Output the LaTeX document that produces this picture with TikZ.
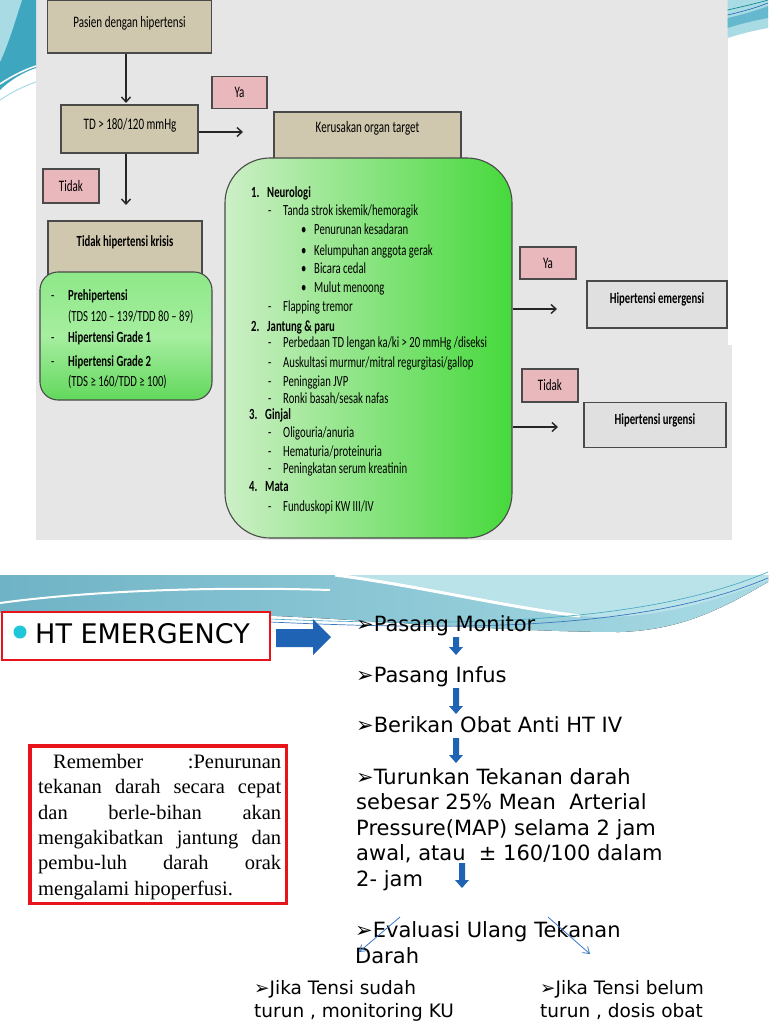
\documentclass[tikz,border=0pt]{standalone}
\usepackage{fontspec}
\setmainfont{DejaVu Sans}
\newfontfamily\fc[FakeStretch=0.69]{Carlito}
\newfontfamily\djv{DejaVu Sans}
\newfontfamily\tnr{Liberation Serif}
\usetikzlibrary{arrows.meta,calc}
\definecolor{tanc}{HTML}{CFC8AE}
\definecolor{pinkb}{HTML}{E9B8BC}
\definecolor{bgg}{HTML}{E6E6E6}
\definecolor{boxg}{HTML}{E0E0E0}
\definecolor{bord}{HTML}{4A4A4A}
\definecolor{blueA}{HTML}{1F63B5}
\definecolor{tealA}{HTML}{6FB3C6}
\definecolor{tealB}{HTML}{A9DBE4}
\definecolor{tealC}{HTML}{3FA6C0}
\definecolor{cyanb}{HTML}{1FC8D8}
\definecolor{redb}{HTML}{E8141B}
\definecolor{thinb}{HTML}{3A78C0}
\definecolor{lgA}{HTML}{8EE888}
\definecolor{lgB}{HTML}{A6EEA0}
\definecolor{lgC}{HTML}{62D85C}
\definecolor{bgL}{HTML}{CDEFC6}
\definecolor{bgR}{HTML}{46D93C}
\newcommand\grNum[4]{\node[gt] (#1n) at (#2,#3) {\bfseries #4};}
\newcommand\grDash[3]{\node[gt] (#1d) at (268,#2) {-}; \node[gt] (#1) at (283,#2) {#3};}
\newcommand\grBul[3]{\node[gt] (#1d) at (301,#2) {\textbullet}; \node[gt] (#1) at (314,#2) {#3};}
\newcommand\bdown[3]{\fill[blueA] (#1-3,#2) -- (#1+3,#2) -- (#1+3,#3-8) -- (#1+7,#3-8) -- (#1,#3) -- (#1-7,#3-8) -- (#1-3,#3-8) -- cycle;}
\begin{document}
\begin{tikzpicture}[x=1pt,y=-1pt,
  box/.style={draw=bord, line width=1.1pt, inner sep=0pt, font=\fc\fontsize{16}{18}\selectfont, text=black},
  tanbox/.style={box, fill=tanc},
  pinkbox/.style={box, fill=pinkb},
  graybox/.style={box, fill=boxg, font=\fc\fontsize{15.5}{18}\selectfont\bfseries},
  flow/.style={-{Straight Barb[length=5pt,width=9pt]}, line width=1.4pt, black!85},
  gt/.style={anchor=base west, inner sep=0pt, font=\fc\fontsize{15.5}{18}\selectfont, text=black},
  sl/.style={anchor=base west, inner sep=0pt, font=\djv\fontsize{21}{26}\selectfont},
  sls/.style={anchor=base west, inner sep=0pt, font=\djv\fontsize{18.5}{23}\selectfont},
  rm/.style={anchor=base west, inner sep=0pt, font=\tnr\fontsize{20.5}{25}\selectfont},
  thinarr/.style={-{Straight Barb[length=6pt,width=8pt]}, thinb, line width=0.8pt}]
\useasboundingbox (0,0) rectangle (768,1024);
\fill[white] (0,0) rectangle (768,1024);
% ---------------- top panel ----------------
\fill[bgg] (36,0) rectangle (732,540);
% boxes
\node[tanbox, minimum width=164pt, minimum height=53pt] (pasien) at (129.5,26.5) {};
\node[box, draw=none, fill=none] (pasient) at (129.5,23) {Pasien dengan hipertensi};
\node[tanbox, minimum width=137pt, minimum height=48pt] (td) at (129.5,129) {};
\node[box, draw=none, fill=none] (tdt) at (130,125) {TD > 180/120 mmHg};
\node[pinkbox, minimum width=55pt, minimum height=32pt] (ya1) at (239.5,92.5) {Ya};
\node[tanbox, minimum width=187pt, minimum height=58pt] (ker) at (367.5,141) {};
\node[box, draw=none, fill=none] (kert) at (367.5,128) {Kerusakan organ target};
\node[pinkbox, minimum width=56pt, minimum height=34pt] (tidak1) at (71,186) {Tidak};
\node[tanbox, minimum width=154pt, minimum height=58pt] (krisis) at (125,250) {};
\node[box, draw=none, fill=none, font=\fc\fontsize{15.5}{18}\selectfont\bfseries] (krisist) at (125,242) {Tidak hipertensi krisis};
% arrows
\coordinate (tdin) at (126,103);
\coordinate (kerin) at (243,132);
\coordinate (krin) at (126,205);
\draw[flow] (pasien.south -| tdin) -- (tdin);
\draw[flow] (td.east |- kerin) -- (kerin);
\draw[flow] (td.south -| krin) -- (krin);
% left green box
\node[draw=bord, line width=1.1pt, rounded corners=18pt, minimum width=172pt, minimum height=128pt, inner sep=0pt,
      top color=lgA, bottom color=lgC, middle color=lgB] (lgreen) at (126,336) {};
\node[gt] (l1d) at (51,300) {-};
\node[gt] (l1) at (68,300) {\bfseries Prehipertensi};
\node[gt] (l1b) at (68,321) {(TDS 120 – 139/TDD 80 – 89)};
\node[gt] (l2d) at (51,342) {-};
\node[gt] (l2) at (68,342) {\bfseries Hipertensi Grade 1};
\node[gt] (l3d) at (51,366) {-};
\node[gt] (l3) at (68,366) {\bfseries Hipertensi Grade 2};
\node[gt] (l3b) at (68,386) {(TDS ≥ 160/TDD ≥ 100)};
% big green box
\node[draw=bord, line width=1.1pt, rounded corners=45pt, minimum width=287pt, minimum height=380pt, inner sep=0pt,
      left color=bgL, right color=bgR] (bgreen) at (368.5,348) {};
\grNum{n1}{251}{198}{1.} \node[gt] (n1t) at (267,198) {\bfseries Neurologi};
\grDash{a1}{216}{Tanda strok iskemik/hemoragik}
\grBul{b1}{235}{Penurunan kesadaran}
\grBul{b2}{255}{Kelumpuhan anggota gerak}
\grBul{b3}{273}{Bicara cedal}
\grBul{b4}{292}{Mulut menoong}
\grDash{a2}{311}{Flapping tremor}
\grNum{n2}{251}{331}{2.} \node[gt] (n2t) at (267,331) {\bfseries Jantung \& paru};
\grDash{a3}{347}{Perbedaan TD lengan ka/ki > 20 mmHg /diseksi}
\grDash{a4}{367}{Auskultasi murmur/mitral regurgitasi/gallop}
\grDash{a5}{386}{Peninggian JVP}
\grDash{a6}{403}{Ronki basah/sesak nafas}
\grNum{n3}{249}{419}{3.} \node[gt] (n3t) at (265,419) {\bfseries Ginjal};
\grDash{a7}{437}{Oligouria/anuria}
\grDash{a8}{456}{Hematuria/proteinuria}
\grDash{a9}{473}{Peningkatan serum kreatinin}
\grNum{n4}{249}{491}{4.} \node[gt] (n4t) at (265,491) {\bfseries Mata};
\grDash{a10}{511}{Funduskopi KW III/IV}
% right side
\node[pinkbox, minimum width=56pt, minimum height=32pt] (ya2) at (548,263) {Ya};
\node[graybox, minimum width=140pt, minimum height=47pt] (emerg) at (657,304.5) {};
\node[box, draw=none, fill=none, font=\fc\fontsize{15.5}{18}\selectfont\bfseries] (emergt) at (657,299) {Hipertensi emergensi};
\node[pinkbox, minimum width=56pt, minimum height=33pt] (tidak2) at (550,385.5) {Tidak};
\node[graybox, minimum width=142pt, minimum height=45pt] (urg) at (655,425) {};
\node[box, draw=none, fill=none, font=\fc\fontsize{15.5}{18}\selectfont\bfseries] (urgt) at (655,420) {Hipertensi urgensi};
\coordinate (emin) at (557,309);
\coordinate (urin) at (558,427);
\draw[flow] (bgreen.east |- emin) -- (emin);
\draw[flow] (bgreen.east |- urin) -- (urin);
% white right strip and corner swooshes
\fill[white] (727.6,0) rectangle (768,345);
\fill[white] (732,345) rectangle (768,540);
\fill[tealC] (0,0) -- (36,0) -- (36,68) .. controls (24,72) and (10,80) .. (0,90) -- cycle;
\fill[tealB] (0,0) -- (22,0) .. controls (14,25) and (8,45) .. (0,62) -- cycle;
\draw[white, line width=1.5pt] (0,84) .. controls (12,76) and (24,70) .. (36,66);
\draw[tealB, line width=1pt] (0,100) .. controls (12,92) and (24,86) .. (36,82);
\fill[tealB] (727.6,0) -- (768,0) -- (768,28) .. controls (752,31) and (740,34) .. (727.6,38) -- cycle;
\fill[tealC!80] (727.6,18) .. controls (745,14) and (758,10) .. (768,6) -- (768,18) .. controls (752,21) and (740,24) .. (727.6,28) -- cycle;
\draw[teal, line width=0.6pt] (727.6,10) .. controls (745,6) and (758,3) .. (768,0);
\draw[blueA, line width=0.6pt] (727.6,15) .. controls (745,11) and (758,7) .. (768,3);
% ---------------- bottom slide ----------------
\fill[left color=tealA, right color=tealB] (0,575) -- (768,575) -- (768,582) .. controls (720,610) and (680,630) .. (620,632)
   .. controls (500,632) and (350,618) .. (250,615) .. controls (150,612) and (50,611) .. (0,613) -- cycle;
\fill[tealB!80!white] (340,575) .. controls (420,586) and (500,606) .. (580,616) .. controls (650,622) and (720,600) .. (768,580) -- (768,575) -- cycle;
\draw[white, line width=3pt] (335,575) .. controls (420,586) and (500,606) .. (580,616);
\draw[white, line width=2pt] (0,603) .. controls (80,592) and (200,586) .. (330,590);
\draw[thinb, line width=0.7pt] (270,622) .. controls (450,630) and (640,632) .. (768,578);
\draw[tealC, line width=0.6pt] (270,619) .. controls (450,626) and (640,626) .. (768,572);
% HT emergency
\node[draw=redb, line width=1.5pt, fill=white, minimum width=268pt, minimum height=48pt, inner sep=0pt] (htbox) at (136,636) {};
\node[circle, fill=cyanb, minimum size=13pt, inner sep=0pt] (dot) at (20,632) {};
\node[anchor=base west, inner sep=0pt, font=\djv\fontsize{27}{30}\selectfont] (ht) at (35,643) {HT EMERGENCY};
\fill[blueA] (276,629) -- (313,629) -- (313,619) -- (331,637) -- (313,655) -- (313,647) -- (276,647) -- cycle;
% right column
\node[sl] (s1) at (356,631) {➢Pasang Monitor};
\bdown{456}{637}{655}
\node[sl] (s2) at (356,682) {➢Pasang Infus};
\bdown{456}{688}{714}
\node[sl] (s3) at (356,732) {➢Berikan Obat Anti HT IV};
\bdown{456}{738}{763}
\node[sl] (s4) at (356,784) {➢Turunkan Tekanan darah};
\node[sl] (s4b) at (356,809) {sebesar 25\% Mean~ Arterial};
\node[sl] (s4c) at (356,835) {Pressure(MAP) selama 2 jam};
\node[sl] (s4d) at (356,860) {awal, atau~ ± 160/100 dalam};
\node[sl] (s4e) at (356,886) {2- jam};
\bdown{462}{863}{888}
\node[sl] (s5) at (355,937) {➢Evaluasi Ulang Tekanan};
\node[sl] (s5b) at (355,963) {Darah};
\coordinate (t1a) at (400,917); \coordinate (t1b) at (359,952);
\coordinate (t2a) at (548,917); \coordinate (t2b) at (590,954);
\draw[thinarr] (t1a) -- (t1b);
\draw[thinarr] (t2a) -- (t2b);
\node[sls] (j1) at (254,994) {➢Jika Tensi sudah};
\node[sls] (j1b) at (254,1017) {turun , monitoring KU};
\node[sls] (j2) at (540,994) {➢Jika Tensi belum};
\node[sls] (j2b) at (540,1017) {turun , dosis obat};
% remember box
\node[draw=redb, line width=3.5pt, fill=white, minimum width=256.5pt, minimum height=157.5pt, inner sep=0pt] (rem) at (158,824.5) {};
\node[rm] (r1) at (38,768) {\makebox[243pt][s]{\hspace*{15pt}Remember :Penurunan}};
\node[rm] (r2) at (38,793) {\makebox[243pt][s]{tekanan darah secara cepat}};
\node[rm] (r3) at (38,819) {\makebox[243pt][s]{dan berle-bihan akan}};
\node[rm] (r4) at (38,844) {\makebox[243pt][s]{mengakibatkan jantung dan}};
\node[rm] (r5) at (38,869) {\makebox[243pt][s]{pembu-luh darah orak}};
\node[rm] (r6) at (38,895) {mengalami hipoperfusi.};
\end{tikzpicture}
\end{document}
